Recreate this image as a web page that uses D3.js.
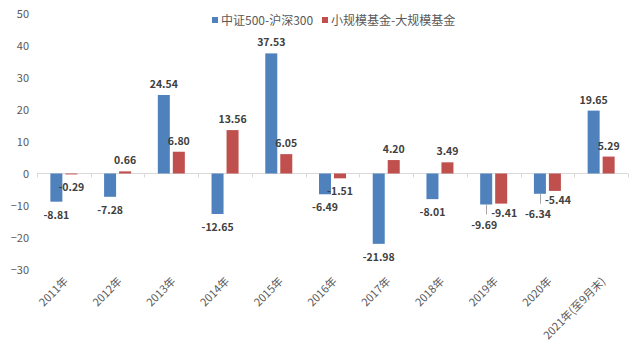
<!DOCTYPE html>
<html><head><meta charset="utf-8">
<script src="https://cdn.jsdelivr.net/npm/d3@7/dist/d3.min.js"></script>
<style>body{margin:0;background:#fff}svg{display:block}text{font-family:"Noto Sans CJK SC","Microsoft YaHei",sans-serif}</style>
</head><body>
<script>
const categories = ["2011年","2012年","2013年","2014年","2015年","2016年","2017年","2018年","2019年","2020年","2021年(至9月末)"];
const seriesNames = ["中证500-沪深300","小规模基金-大规模基金"];
const csi500MinusCsi300 = [-8.81,-7.28,24.54,-12.65,37.53,-6.49,-21.98,-8.01,-9.69,-6.34,19.65];
const smallMinusLarge = [-0.29,0.66,6.80,13.56,6.05,-1.51,4.20,3.49,-9.41,-5.44,5.29];
const yTicks = [-30,-20,-10,0,10,20,30,40,50];
const colors = ["#4F81BD","#C0504D"];

const W=640,H=344;
const svg=d3.select("body").append("svg").attr("width",W).attr("height",H);
const y=d3.scaleLinear().domain([-30,50]).range([269.5,13.5]);
const x=d3.scaleBand().domain(categories).range([37,628]).padding(0);
const xs=d3.scaleBand().domain(seriesNames).range([-13.5,13.5]).paddingInner(0.2);

// y axis labels
const ya=d3.axisLeft(y).tickValues(yTicks).tickSize(0).tickPadding(0);
const yg=svg.append("g").attr("transform","translate(29,0)").call(ya);
yg.select(".domain").remove();
yg.selectAll("text").attr("fill","#595959").style("font-size","11px");

// zero axis line with ticks
svg.append("line").attr("x1",37).attr("x2",628).attr("y1",y(0)).attr("y2",y(0)).attr("stroke","#d9d9d9").attr("stroke-width",1);
const bounds=categories.map(c=>x(c)).concat([x.range()[1]]);
svg.selectAll(".tk").data(bounds).join("line").attr("x1",d=>Math.round(d)+0.5).attr("x2",d=>Math.round(d)+0.5)
  .attr("y1",y(0)).attr("y2",y(0)+4).attr("stroke","#d9d9d9");

const data=[csi500MinusCsi300,smallMinusLarge];
const extra=new Set(["2019年","2020年"]);
data.forEach((vals,si)=>{
  const g=svg.append("g");
  g.selectAll("rect").data(vals).join("rect")
    .attr("x",(d,i)=>x(categories[i])+x.bandwidth()/2+xs(seriesNames[si]))
    .attr("width",xs.bandwidth())
    .attr("y",d=>y(Math.max(0,d)))
    .attr("height",d=>Math.abs(y(d)-y(0)))
    .attr("fill",colors[si]);
  vals.forEach((d,i)=>{
    const cx=x(categories[i])+x.bandwidth()/2+xs(seriesNames[si])+xs.bandwidth()/2;
    let ty, tx=cx;
    if(d>=0) ty=y(d)-7;
    else {
      ty=y(d)+17;
      if(si===0&&extra.has(categories[i])){
        ty=y(d)+24; tx=cx-2;
        g.append("line").attr("x1",Math.round(cx)+0.5).attr("x2",Math.round(cx)+0.5).attr("y1",y(d)).attr("y2",y(d)+10).attr("stroke","#a6a6a6");
      }
      if(si===1&&extra.has(categories[i])){ ty=y(d)+13; tx=cx+3; }
    }
    g.append("text").attr("x",tx).attr("y",ty).attr("text-anchor","middle")
      .attr("fill","#404040").style("font-size","10.5px").style("font-weight","bold").text(d.toFixed(2));
  });
});

// x category labels rotated
svg.selectAll(".xl").data(categories).join("text")
  .attr("transform",d=>`translate(${x(d)+x.bandwidth()/2+5},${282}) rotate(-45)`)
  .attr("text-anchor","end").attr("fill","#595959").style("font-size","11px").text(d=>d);

// legend
const leg=svg.append("g");
const lx=[212,322];
seriesNames.forEach((n,i)=>{
  leg.append("rect").attr("x",lx[i]).attr("y",17).attr("width",6).attr("height",6).attr("fill",colors[i]);
  leg.append("text").attr("x",lx[i]+9).attr("y",24.5).attr("fill","#595959").style("font-size","12px").text(n);
});
</script>
</body></html>
